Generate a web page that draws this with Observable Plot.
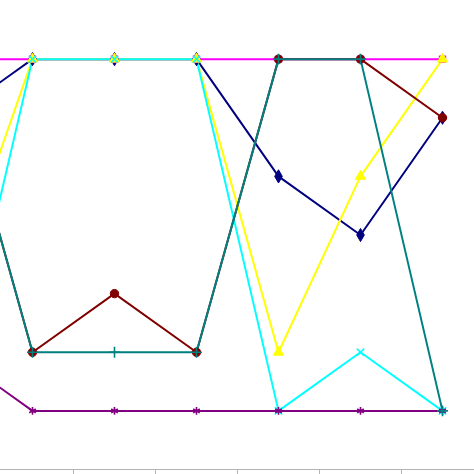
<!DOCTYPE html>
<html>
<head>
<meta charset="utf-8">
<script src="https://cdn.jsdelivr.net/npm/d3@7"></script>
<script src="https://cdn.jsdelivr.net/npm/@observablehq/plot@0.6"></script>
<style>
  html, body { margin: 0; padding: 0; background: #fff; }
  #chart { width: 474px; height: 474px; overflow: hidden; }
</style>
</head>
<body>
<div id="chart"></div>
<script>
// category positions (first one lies just outside the visible crop)
const categories = [0, 1, 2, 3, 4, 5, 6];
// rank values per series (1 = top)
const navy    = [2, 1, 1, 1, 3, 4, 2];
const magenta = [1, 1, 1, 1, 1, 1, 1];
const yellow  = [5, 1, 1, 1, 6, 3, 1];
const cyan    = [7, 1, 1, 1, 7, 6, 7];
const purple  = [6, 7, 7, 7, 7, 7, 7];
const darkred = [1, 6, 5, 6, 1, 1, 2];
const teal    = [1, 6, 6, 6, 1, 1, 7];
const tickPositions = [0.5, 1.5, 2.5, 3.5, 4.5, 5.5, 6.5];

const seriesList = [
  {name: "S1", values: navy,    color: "#000080", symbol: "diamond",  filled: true,  r: 4},
  {name: "S2", values: magenta, color: "#FF00FF", symbol: "square",   filled: true,  r: 3.6},
  {name: "S3", values: yellow,  color: "#FFFF00", symbol: "triangle", filled: true,  r: 3.8},
  {name: "S4", values: cyan,    color: "#00FFFF", symbol: "times",    filled: false, r: 3.4},
  {name: "S5", values: purple,  color: "#800080", symbol: "asterisk", filled: false, r: 3.6},
  {name: "S6", values: darkred, color: "#800000", symbol: "circle",   filled: true,  r: 4.2},
  {name: "S7", values: teal,    color: "#008080", symbol: "plus",     filled: false, r: 3.6}
];

const marks = [
  Plot.ruleY([8], {stroke: "#b4b4b4", strokeWidth: 1.2}),
  Plot.axisX({ticks: tickPositions, tickSize: 5, tickFormat: () => "", label: null, stroke: "#b4b4b4", anchor: "bottom"})
];
for (const s of seriesList) {
  const rows = categories.map((c, i) => ({x: c, y: s.values[i]}));
  marks.push(Plot.line(rows, {x: "x", y: "y", stroke: s.color, strokeWidth: 2}));
}
for (const s of seriesList) {
  const rows = categories.map((c, i) => ({x: c, y: s.values[i]}));
  marks.push(Plot.dot(rows, {
    x: "x", y: "y", symbol: () => s.symbol, r: s.r,
    fill: s.filled ? s.color : "none", stroke: s.color, strokeWidth: s.filled ? 1 : 1.6
  }));
}

const chart = Plot.plot({
  width: 474,
  height: 474,
  marginTop: 0,
  marginBottom: 5,
  marginLeft: 0,
  marginRight: 0,
  x: {type: "linear", domain: [0, 6], range: [-50, 442], axis: null, label: null},
  y: {domain: [0, 8], range: [0, 469], axis: null, label: null},
  symbol: {type: "identity"},
  marks
});
document.getElementById("chart").appendChild(chart);
</script>
</body>
</html>
